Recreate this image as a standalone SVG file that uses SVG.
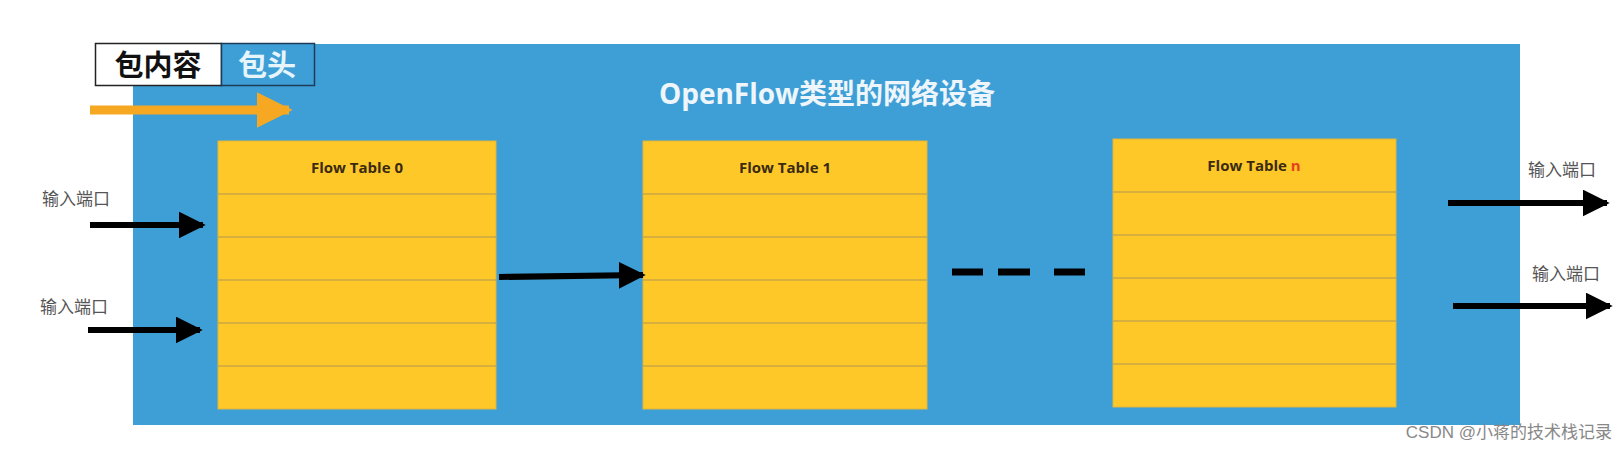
<svg xmlns="http://www.w3.org/2000/svg" width="1623" height="451" viewBox="0 0 1623 451">
<defs>
<style>
.tbl{fill:#fec928;stroke:#e0b53a;stroke-width:1}
.row{stroke:#c9a646;stroke-width:1.5}
.tt{font-family:"Open Sans","Liberation Sans",sans-serif;font-weight:bold;font-size:15px;fill:#3b2a12;text-anchor:middle}
.lbl{font-family:"Liberation Sans","Noto Sans CJK SC",sans-serif;font-size:17px;fill:#555}
.blk{stroke:#000;stroke-width:6;fill:none}
</style>
<marker id="ah" viewBox="0 0 10 10" refX="9" refY="5" markerWidth="4.5" markerHeight="4.5" orient="auto" markerUnits="strokeWidth"><path d="M0,0 L10,5 L0,10 z" fill="#000"/></marker>
<marker id="oh" viewBox="0 0 10 10" refX="9" refY="5" markerWidth="4" markerHeight="4.4" orient="auto" markerUnits="strokeWidth"><path d="M0,0 L10,5 L0,10 z" fill="#f7a823"/></marker>
</defs>
<rect width="1623" height="451" fill="#fff"/>
<g id="device">
<rect x="133" y="44" width="1387" height="381" fill="#3e9fd6"/>
<text x="827" y="104" text-anchor="middle" font-family="'Open Sans','Noto Sans CJK SC',sans-serif" font-weight="bold" font-size="28" fill="#eef6fb">OpenFlow类型的网络设备</text>
</g>
<g id="packet">
<rect x="95.5" y="43.5" width="126" height="42" fill="#fff" stroke="#222" stroke-width="1.5"/>
<rect x="221.5" y="43.5" width="93" height="42" fill="#3e9fd6" stroke="#1f3b5a" stroke-width="1.5"/>
<text x="158" y="76" text-anchor="middle" font-family="'Noto Sans CJK SC',sans-serif" font-weight="bold" font-size="29" fill="#111">包内容</text>
<text x="267" y="76" text-anchor="middle" font-family="'Noto Sans CJK SC',sans-serif" font-weight="bold" font-size="29" fill="#e6f4fb">包头</text>
</g>
<g id="table0">
<rect class="tbl" x="218" y="141" width="278" height="268"/>
<path class="row" d="M218 194H496M218 237H496M218 280H496M218 323H496M218 366H496"/>
<text class="tt" x="357" y="173">Flow Table 0</text>
</g>
<g id="table1">
<rect class="tbl" x="643" y="141" width="284" height="268"/>
<path class="row" d="M643 194H927M643 237H927M643 280H927M643 323H927M643 366H927"/>
<text class="tt" x="785" y="173">Flow Table 1</text>
</g>
<g id="tablen">
<rect class="tbl" x="1113" y="139" width="283" height="268"/>
<path class="row" d="M1113 192H1396M1113 235H1396M1113 278H1396M1113 321H1396M1113 364H1396"/>
<text class="tt" x="1254" y="171">Flow Table <tspan fill="#e8401c">n</tspan></text>
</g>
<g id="labels">
<text class="lbl" x="42" y="205">输入端口</text>
<text class="lbl" x="40" y="313">输入端口</text>
<text class="lbl" x="1528" y="176">输入端口</text>
<text class="lbl" x="1532" y="280">输入端口</text>
<text x="1612" y="438" text-anchor="end" font-family="'Liberation Sans','Noto Sans CJK SC',sans-serif" font-size="17" fill="#888">CSDN @小蒋的技术栈记录</text>
</g>
<g id="connectors">
<line x1="90" y1="110" x2="289" y2="110" stroke="#f7a823" stroke-width="9" marker-end="url(#oh)"/>
<line class="blk" x1="90" y1="225" x2="203" y2="225" marker-end="url(#ah)"/>
<line class="blk" x1="88" y1="330" x2="200" y2="330" marker-end="url(#ah)"/>
<line class="blk" x1="499" y1="277" x2="643" y2="275" marker-end="url(#ah)"/>
<line class="blk" x1="1448" y1="203" x2="1607" y2="203" marker-end="url(#ah)"/>
<line class="blk" x1="1453" y1="306" x2="1610" y2="306" marker-end="url(#ah)"/>
<path d="M952 272H983M998 272H1030M1054 272H1085" stroke="#000" stroke-width="7"/>
</g>
</svg>
